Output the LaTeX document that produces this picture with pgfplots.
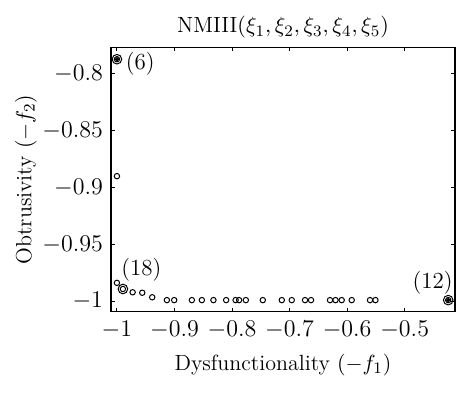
\documentclass[border=0pt]{standalone}
\usepackage{pgfplots}
\pgfplotsset{compat=1.18}
\begin{document}
\begin{tikzpicture}
\useasboundingbox (-55.5pt,-41.65pt) rectangle (181.5pt,155.85pt);
\begin{axis}[
  at={(0,0)}, anchor=south west,
  scale only axis,
  width=172pt, height=132.2pt,
  xmin=-1.0103, xmax=-0.4125,
  ymin=-1.0094, ymax=-0.7765,
  xtick={-1,-0.9,-0.8,-0.7,-0.6,-0.5},
  ytick={-1,-0.95,-0.9,-0.85,-0.8},
  yticklabel style={/pgf/number format/fixed,/pgf/number format/precision=2,font=\fontsize{12.5}{14}\selectfont, xshift=-0.5pt},
  xticklabel style={/pgf/number format/fixed,font=\fontsize{12.5}{14}\selectfont, yshift=-1pt},
  major tick length=2pt,
  axis line style={line width=0.6pt},
  every tick/.style={line width=0.5pt, black},
  title={NMIII$(\xi_1,\xi_2,\xi_3,\xi_4,\xi_5)$},
  title style={yshift=-5pt, font=\fontsize{11}{13}\selectfont},
  xlabel={Dysfunctionality $(-f_1)$},
  ylabel={Obtrusivity $(-f_2)$},
  xlabel style={yshift=-1pt, font=\fontsize{11}{13}\selectfont},
  ylabel style={yshift=-4pt, font=\fontsize{11}{13}\selectfont},
  clip=false,
]
\addplot[only marks, mark=o, mark size=1.35pt, mark options={line width=0.5pt}] coordinates {
(-1.0,-0.787) (-1.0,-0.890) (-1.0,-0.984) (-0.9896,-0.9894)
(-0.9727,-0.9923) (-0.956,-0.9927) (-0.9387,-0.9967)
(-0.9132,-0.9992) (-0.9005,-0.9992) (-0.8698,-0.9992) (-0.8524,-0.9992)
(-0.8323,-0.9992) (-0.8102,-0.9992) (-0.7938,-0.9992) (-0.7877,-0.9992)
(-0.7760,-0.9992) (-0.7465,-0.9992) (-0.7135,-0.9992) (-0.6962,-0.9992)
(-0.6731,-0.9992) (-0.6627,-0.9992) (-0.6297,-0.9992) (-0.6201,-0.9992)
(-0.6094,-0.9992) (-0.5920,-0.9992) (-0.5602,-0.9992) (-0.5507,-0.9992)
(-0.4243,-0.9992)
};
\addplot[only marks, mark=o, mark size=2.4pt, mark options={line width=0.5pt}] coordinates {
(-1.0,-0.787) (-0.9896,-0.9894) (-0.4243,-0.9992)
};
\addplot[only marks, mark=*, mark size=0.9pt] coordinates {
(-1.0,-0.787) (-0.4243,-0.9992)
};
\node[anchor=west, inner sep=0pt, font=\fontsize{11.5}{13}\selectfont] at (axis cs:-0.985,-0.791) {(6)};
\node[anchor=west, inner sep=0pt, font=\fontsize{11.5}{13}\selectfont] at (axis cs:-0.993,-0.9727) {(18)};
\node[anchor=east, inner sep=0pt, font=\fontsize{11.5}{13}\selectfont] at (axis cs:-0.416,-0.984) {(12)};
\end{axis}
\end{tikzpicture}
\end{document}
